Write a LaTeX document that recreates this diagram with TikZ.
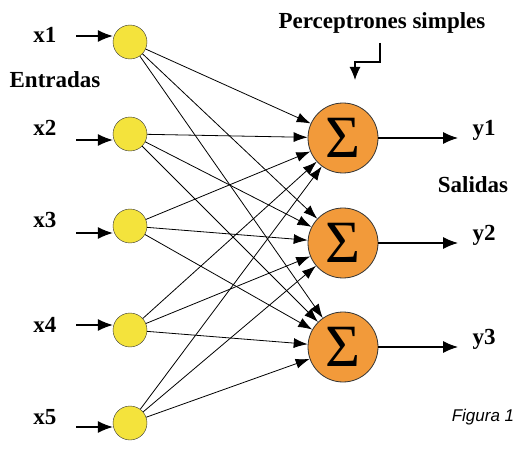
\documentclass[tikz,border=0pt]{standalone}
\usepackage{fontspec}
\setmainfont{Liberation Serif}
\newfontfamily\figfont{Liberation Sans}
\usetikzlibrary{arrows.meta}
\definecolor{amarillo}{HTML}{F4E33C}
\definecolor{naranja}{HTML}{F29A3A}
\tikzset{
  entrada/.style={circle, draw=black!80, fill=amarillo, minimum size=34pt, inner sep=0pt},
  perceptron/.style={circle, draw=black!80, line width=0.8pt, fill=naranja, minimum size=70pt, inner sep=0pt, font=\fontsize{60}{60}\selectfont},
  etiqueta/.style={font=\fontsize{23}{25}\selectfont\bfseries},
  flecha/.style={-{Latex[length=15pt,width=12pt]}, line width=1.1pt},
  enlace/.style={-{Latex[length=14pt,width=10pt]}, line width=0.8pt}
}
% name, y circle, y label, y arrow
\newcommand{\neurona}[4]{\node[entrada] (#1) at (130,#2) {}; \node[etiqueta] (l#1) at (45,#3) {#1}; \coordinate (a#1) at (76,#4); \draw[flecha] (a#1) -- (a#1 -| #1.west);}
% name, y circle, output name
\newcommand{\suma}[3]{\node[perceptron] (#1) at (343,#2) {Σ}; \coordinate (e#1) at (458,#2); \draw[flecha] (#1) -- (e#1); \node[etiqueta] (#3) at (484,#2-8) {#3};}

\begin{document}
\begin{tikzpicture}[x=1pt,y=-1pt]
        \useasboundingbox (0,0) rectangle (531,452);
        % entradas
        \neurona{x1}{42}{35}{36}
        \neurona{x2}{134}{128}{140}
        \neurona{x3}{226}{220}{233}
        \neurona{x4}{330}{325}{325}
        \neurona{x5}{423}{417}{427}
        % perceptrones
        \suma{s1}{138}{y1}
        \suma{s2}{243}{y2}
        \suma{s3}{347}{y3}
        % x1
        \draw[enlace] (x1) -- (s1); \draw[enlace] (x1) -- (s2); \draw[enlace] (x1) -- (s3);
        % x2
        \draw[enlace] (x2) -- (s1); \draw[enlace] (x2) -- (s2); \draw[enlace] (x2) -- (s3);
        % x3
        \draw[enlace] (x3) -- (s1); \draw[enlace] (x3) -- (s2); \draw[enlace] (x3) -- (s3);
        % x4
        \draw[enlace] (x4) -- (s1); \draw[enlace] (x4) -- (s2); \draw[enlace] (x4) -- (s3);
        % x5
        \draw[enlace] (x5) -- (s1); \draw[enlace] (x5) -- (s2); \draw[enlace] (x5) -- (s3);
        % textos
        \node[etiqueta] (entradas) at (55,80) {Entradas};
        \node[etiqueta] (salidas) at (473,185) {Salidas};
        \node[etiqueta] (titulo) at (382,23) {Perceptrones simples};
        \coordinate (p0) at (380,43);
        \coordinate (p1) at (355,80);
        \draw[-{Latex[length=13pt,width=11pt]}, line width=1.1pt] (p0) -- ++(0,19) -| (p1);
        \node[font=\figfont\itshape\fontsize{17}{19}\selectfont] (figura) at (483,417) {Figura 1};
\end{tikzpicture}
\end{document}
